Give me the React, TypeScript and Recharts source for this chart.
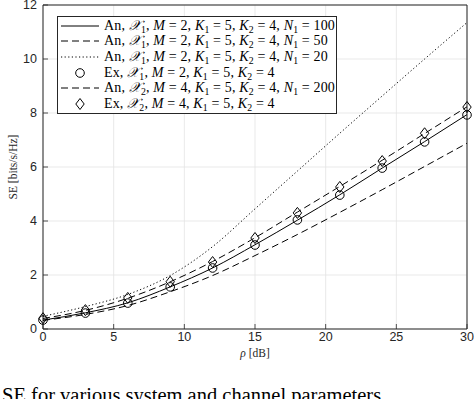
import React from "react";
import { LineChart, Line, XAxis, YAxis, CartesianGrid, ReferenceArea } from "recharts";

// SNR points (dB)
const rho = [0, 3, 6, 9, 12, 15, 18, 21, 24, 27, 30];

// analytical curves
const anX1N100 = [0.33, 0.6, 0.97, 1.56, 2.26, 3.12, 4.03, 4.97, 5.96, 6.94, 7.94];
const anX1N50 = [0.32, 0.54, 0.87, 1.38, 1.98, 2.72, 3.5, 4.32, 5.16, 6.02, 6.88];
const anX1N20 = [0.47, 0.83, 1.28, 1.98, 3.05, 4.45, 5.85, 7.25, 8.63, 10.0, 11.35];
const anX2N200 = [0.39, 0.69, 1.14, 1.75, 2.5, 3.38, 4.33, 5.28, 6.25, 7.24, 8.23];

// simulated (Ex) markers
const exX1 = [0.33, 0.59, 0.96, 1.56, 2.26, 3.11, 4.04, 4.96, 5.96, 6.93, 7.93];
const exX2 = [0.4, 0.7, 1.15, 1.75, 2.48, 3.37, 4.3, 5.26, 6.22, 7.25, 8.22];

const xTicks = [0, 5, 10, 15, 20, 25, 30];
const yTicks = [0, 2, 4, 6, 8, 10, 12];

// legend entries
const legendKinds = ["An", "An", "An", "Ex", "An", "Ex"];
const legendSets = ["1", "1", "1", "1", "2", "2"];
const legendM = [2, 2, 2, 2, 4, 4];
const legendN1 = [100, 50, 20, null, 200, null];
const legendStyles = ["solid", "dash", "dot", "circle", "dash", "diamond"];

const data = rho.map((r, i) => ({
  rho: r,
  n100: anX1N100[i],
  n50: anX1N50[i],
  n20: anX1N20[i],
  ex1: exX1[i],
  n200: anX2N200[i],
  ex2: exX2[i],
}));

const AX = "#262626";
const TICK_FONT = "'Liberation Sans', Arial, sans-serif";
const SERIF = "'Liberation Serif', 'Times New Roman', serif";
const DASH = "7 4";
const DOT = "1.2 2.4";

function BottomTick({ x, y, payload }: any) {
  const axisY = y - 3;
  return (
    <g>
      <line x1={x} x2={x} y1={axisY} y2={axisY - 5} stroke={AX} strokeWidth={0.8} />
      <text x={x} y={y} dy="0.71em" textAnchor="middle" fill={AX} fontSize={12.5} fontFamily={TICK_FONT}>
        {payload.value}
      </text>
    </g>
  );
}

function LeftTick({ x, y, payload }: any) {
  const axisX = x + 6;
  return (
    <g>
      <line x1={axisX} x2={axisX + 5} y1={y} y2={y} stroke={AX} strokeWidth={0.8} />
      <text x={x} y={y} dy="0.355em" textAnchor="end" fill={AX} fontSize={12.5} fontFamily={TICK_FONT}>
        {payload.value}
      </text>
    </g>
  );
}

function TopTick({ x, y }: any) {
  return <line x1={x} x2={x} y1={y} y2={y + 5} stroke={AX} strokeWidth={0.8} />;
}

function RightTick({ x, y }: any) {
  return <line x1={x} x2={x - 5} y1={y} y2={y} stroke={AX} strokeWidth={0.8} />;
}

function Diamond({ cx, cy }: any) {
  if (cx == null || cy == null) return null;
  return (
    <path
      d={`M${cx},${cy - 5.5} L${cx + 4.2},${cy} L${cx},${cy + 5.5} L${cx - 4.2},${cy} Z`}
      fill="none"
      stroke="#000"
      strokeWidth={1}
    />
  );
}

function Sample({ kind }: { kind: string }) {
  return (
    <svg width={44} height={14} style={{ display: "block", flex: "none" }}>
      {kind === "solid" && <line x1={3} x2={41} y1={7} y2={7} stroke="#000" strokeWidth={1} />}
      {kind === "dash" && <line x1={3} x2={41} y1={7} y2={7} stroke="#000" strokeWidth={1} strokeDasharray={DASH} />}
      {kind === "dot" && <line x1={3} x2={41} y1={7} y2={7} stroke="#000" strokeWidth={1} strokeDasharray={DOT} />}
      {kind === "circle" && <circle cx={22} cy={7} r={4.3} fill="none" stroke="#000" strokeWidth={1} />}
      {kind === "diamond" && <Diamond cx={22} cy={7} />}
    </svg>
  );
}

const sub: React.CSSProperties = { fontSize: "0.7em", position: "relative", top: "0.3em" };

function LegendBox() {
  return (
    <div
      style={{
        position: "absolute",
        left: 57,
        top: 16,
        width: 280,
        height: 98,
        border: `1px solid ${AX}`,
        background: "#fff",
        boxSizing: "border-box",
        paddingTop: 1,
        fontFamily: SERIF,
        fontSize: 14,
        letterSpacing: 0.15,
        color: "#000",
      }}
    >
      {legendKinds.map((k, i) => (
        <div key={i} style={{ display: "flex", alignItems: "center", height: 15.6, lineHeight: "15px", whiteSpace: "nowrap" }}>
          <Sample kind={legendStyles[i]} />
          <span style={{ marginLeft: 2 }}>
            {k}, <i>𝒳</i>
            <span style={sub}>{legendSets[i]}</span>, <i>M</i> = {legendM[i]}, <i>K</i>
            <span style={sub}>1</span> = 5, <i>K</i>
            <span style={sub}>2</span> = 4
            {legendN1[i] != null && (
              <>
                , <i>N</i>
                <span style={sub}>1</span> = {legendN1[i]}
              </>
            )}
          </span>
        </div>
      ))}
    </div>
  );
}

export default function App() {
  return (
    <div style={{ position: "absolute", left: 0, top: 0, width: 474, height: 399, background: "#fff", overflow: "hidden" }}>
      <LineChart width={474} height={399} data={data} margin={{ top: 5, right: 7, left: 0, bottom: 30 }}>
        <CartesianGrid stroke="#e3e3e3" strokeWidth={0.8} />
        <XAxis
          dataKey="rho"
          type="number"
          domain={[0, 30]}
          ticks={xTicks}
          height={40}
          axisLine={false}
          tickLine={false}
          tickSize={0}
          tickMargin={3}
          tick={<BottomTick />}
          interval={0}
        />
        <YAxis
          type="number"
          domain={[0, 12]}
          ticks={yTicks}
          width={43}
          axisLine={false}
          tickLine={false}
          tickSize={0}
          tickMargin={6}
          tick={<LeftTick />}
          interval={0}
        />
        <XAxis
          xAxisId="top"
          orientation="top"
          type="number"
          domain={[0, 30]}
          allowDataOverflow
          ticks={xTicks}
          height={0}
          axisLine={false}
          tickLine={false}
          tickSize={0}
          tickMargin={0}
          tick={<TopTick />}
          interval={0}
        />
        <YAxis
          yAxisId="right"
          orientation="right"
          type="number"
          domain={[0, 12]}
          allowDataOverflow
          ticks={yTicks}
          width={0}
          axisLine={false}
          tickLine={false}
          tickSize={0}
          tickMargin={0}
          tick={<RightTick />}
          interval={0}
        />
        <ReferenceArea x1={0} x2={30} y1={0} y2={12} fill="none" stroke={AX} strokeWidth={1} fillOpacity={0} />
        <Line type="monotone" dataKey="n20" stroke="#000" strokeWidth={1} strokeDasharray={DOT} dot={false} isAnimationActive={false} />
        <Line type="monotone" dataKey="n50" stroke="#000" strokeWidth={1} strokeDasharray={DASH} dot={false} isAnimationActive={false} />
        <Line type="monotone" dataKey="n200" stroke="#000" strokeWidth={1} strokeDasharray={DASH} dot={false} isAnimationActive={false} />
        <Line type="monotone" dataKey="n100" stroke="#000" strokeWidth={1} dot={false} isAnimationActive={false} />
        <Line
          dataKey="ex1"
          stroke="none"
          dot={{ r: 4.3, fill: "none", stroke: "#000", strokeWidth: 1 }}
          isAnimationActive={false}
        />
        <Line dataKey="ex2" stroke="none" dot={<Diamond />} isAnimationActive={false} />
        <text x={14} y={167} transform="rotate(-90 14 167)" textAnchor="middle" dominantBaseline="middle" fontFamily={SERIF} fontSize={11.5} fill={AX}>
          SE [bits/s/Hz]
        </text>
        <text x={255} y={357} textAnchor="middle" fontFamily={SERIF} fontSize={11.5} fill={AX}>
          <tspan fontStyle="italic">ρ</tspan> [dB]
        </text>
      </LineChart>
      <LegendBox />
      <div style={{ position: "absolute", left: 2, top: 384, fontFamily: SERIF, fontSize: 20.5, color: "#000", whiteSpace: "nowrap" }}>
        SE for various system and channel parameters
      </div>
    </div>
  );
}
